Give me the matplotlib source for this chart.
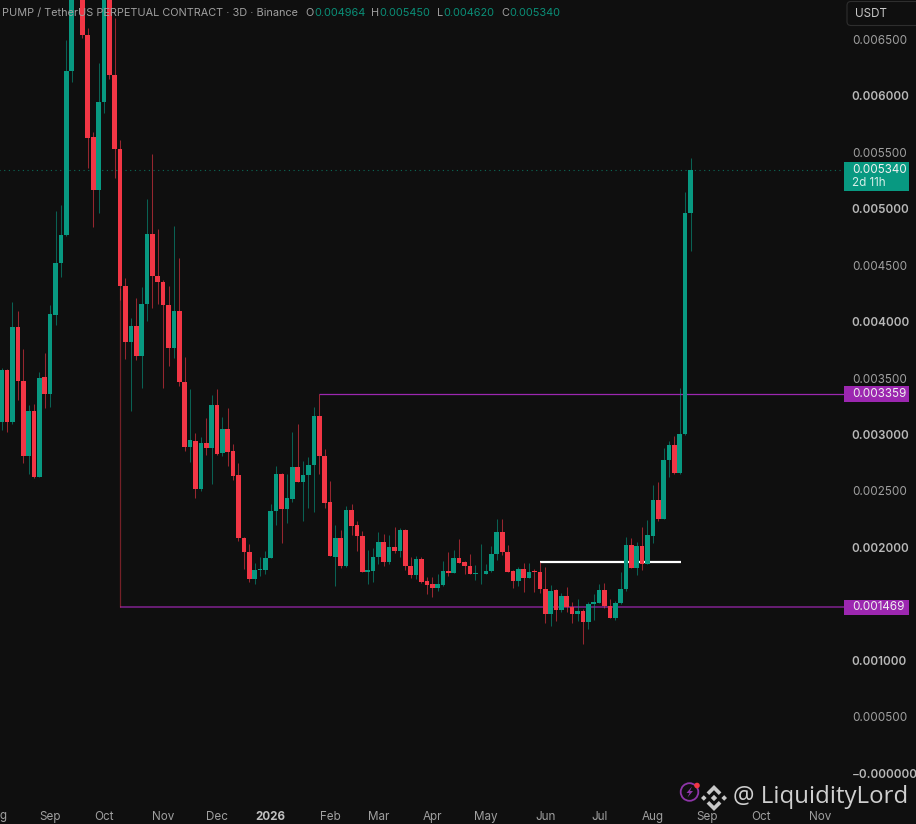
import numpy as np
import matplotlib
matplotlib.use('Agg')
import matplotlib.pyplot as plt
from matplotlib.patches import Circle, FancyBboxPatch, Polygon, Rectangle

# 3D candles, prices in millionths of a USDT
opens = [3111, 3571, 3111, 3954, 3476, 2812, 3208, 2627, 3509, 3356,
         4060, 4521, 4766, 6220, 7070, 7500, 6540, 5630, 5164, 5945,
         7000, 6182, 5527, 4317, 3821, 3960, 3695, 4155, 4775, 4405,
         4347, 4143, 3768, 4096, 3467, 2887, 2945, 2518, 2922, 2881,
         3261, 2834, 3049, 2854, 2642, 2084, 1963, 1721, 1801, 1801,
         1907, 2323, 2651, 2343, 2430, 2712, 2582, 2642, 2730, 3166,
         2810, 2403, 1918, 2084, 1836, 2329, 2199, 2102, 1786, 1795,
         1919, 2046, 1874, 2002, 1972, 2155, 1836, 1756, 1898, 1704,
         1674, 1644, 1665, 1795, 1777, 1905, 1872, 1839, 1768, 1772,
         1768, 1792, 1943, 2135, 1958, 1792, 1704, 1810, 1733, 1789,
         1781, 1633, 1414, 1624, 1447, 1571, 1471, 1409, 1438, 1341,
         1500, 1512, 1624, 1482, 1379, 1506, 1630, 2022, 1819, 2013,
         1854, 2105, 2420, 2252, 2770, 2907, 2657, 3000, 4964]
highs = [3589, 3580, 4173, 4096, 3757, 3261, 3270, 3556, 3721, 4146,
         4981, 5031, 6491, 7150, 7800, 7700, 6598, 5677, 6288, 7200,
         7300, 6686, 5606, 4385, 4034, 4208, 4306, 5082, 5483, 4819,
         4367, 4314, 4845, 4562, 3689, 3403, 3013, 2978, 3146, 3350,
         3403, 3158, 3235, 2916, 2748, 2096, 2031, 1866, 1919, 1969,
         2382, 2721, 2659, 2651, 3025, 3093, 2766, 2798, 3241, 3356,
         2869, 2589, 2199, 2155, 2367, 2385, 2237, 2146, 1978, 1998,
         2135, 2117, 2111, 2184, 2170, 2161, 1919, 1925, 1913, 1736,
         1742, 1766, 1881, 1963, 1978, 2073, 1881, 1940, 1845, 2031,
         1851, 2016, 2250, 2253, 2022, 1801, 1830, 1860, 1860, 1807,
         1874, 1825, 1668, 1630, 1600, 1648, 1515, 1544, 1456, 1520,
         1589, 1674, 1689, 1542, 1527, 1781, 2096, 2087, 2051, 2179,
         2243, 2553, 2582, 2878, 2945, 2987, 3412, 5149, 5450]
lows = [3040, 3025, 3093, 3305, 2751, 2651, 2615, 2620, 3235, 3246,
        3969, 4397, 4760, 6122, 6900, 6512, 5359, 4839, 4960, 5848,
        6146, 5270, 4190, 3668, 3208, 3659, 3412, 4007, 4120, 4155,
        3412, 3606, 3677, 3429, 2857, 2759, 2441, 2503, 2819, 2562,
        2819, 2813, 2724, 2597, 2058, 1810, 1697, 1677, 1750, 1766,
        1905, 2199, 2042, 2217, 2403, 2580, 2237, 2352, 2317, 2651,
        2347, 1925, 1659, 1818, 1830, 2111, 1972, 1784, 1673, 1697,
        1851, 1839, 1851, 1954, 1919, 1801, 1727, 1718, 1683, 1588,
        1559, 1618, 1660, 1748, 1775, 1860, 1766, 1763, 1712, 1674,
        1766, 1785, 1890, 1934, 1780, 1639, 1659, 1604, 1728, 1606,
        1600, 1335, 1305, 1350, 1432, 1432, 1335, 1352, 1146, 1279,
        1358, 1510, 1462, 1375, 1358, 1497, 1615, 1815, 1757, 1801,
        1850, 2042, 2237, 2248, 2627, 2651, 2651, 2995, 4620]
closes = [3571, 3111, 3954, 3476, 2812, 3208, 2627, 3503, 3356, 4067,
          4521, 4766, 6220, 7067, 7600, 6536, 5627, 5164, 5945, 7000,
          6182, 5527, 4314, 3821, 3960, 3695, 4155, 4775, 4405, 4347,
          4143, 3768, 4096, 3467, 2887, 2951, 2518, 2922, 2881, 3261,
          2830, 3049, 2848, 2635, 2084, 1963, 1721, 1801, 1810, 1910,
          2323, 2651, 2343, 2436, 2712, 2582, 2642, 2730, 3166, 2810,
          2394, 1927, 2084, 1836, 2329, 2193, 2102, 1786, 1801, 1919,
          2046, 1874, 2002, 1972, 2155, 1836, 1756, 1898, 1695, 1668,
          1644, 1674, 1795, 1777, 1905, 1866, 1839, 1768, 1777, 1777,
          1795, 1943, 2135, 1958, 1783, 1704, 1810, 1733, 1783, 1781,
          1630, 1414, 1618, 1447, 1571, 1471, 1409, 1438, 1341, 1500,
          1518, 1624, 1482, 1379, 1506, 1633, 2022, 1819, 2013, 1854,
          2108, 2420, 2252, 2775, 2907, 2657, 3002, 4964, 5340]

# 0.001500 sits under the 0.001469 tag in the reference, so it is left out
price_ticks = [0.0065, 0.006, 0.0055, 0.005, 0.0045, 0.004, 0.0035,
               0.003, 0.0025, 0.002, 0.001, 0.0005, 0.0]
price_labels = ['0.006500', '0.006000', '0.005500', '0.005000', '0.004500',
                '0.004000', '0.003500', '0.003000', '0.002500', '0.002000',
                '0.001000', '0.000500', '\u22120.000000']
month_pos = [9, 19, 30, 40, 50, 61, 70, 80, 90, 101, 111, 121, 131, 141, 152]
month_labels = ['Sep', 'Oct', 'Nov', 'Dec', '2026', 'Feb', 'Mar', 'Apr', 'May',
                'Jun', 'Jul', 'Aug', 'Sep', 'Oct', 'Nov']

last_price = 0.005340
upper_level = 0.003359
lower_level = 0.001469
white_level = 0.001874

BG = '#0f0f0f'
GREEN = '#089981'
RED = '#f23645'
PURPLE = '#9c27b0'
TEXT = '#a0a0a0'
W, H = 916, 824
FS = 8.4

plt.rcParams['font.family'] = ['Inter', 'DejaVu Sans']

fig = plt.figure(figsize=(W / 100, H / 100), dpi=100, facecolor=BG)
ax = fig.add_axes([0, 1 - 806 / H, 845 / W, 806 / H], facecolor=BG)

o = np.array(opens) * 1e-6
h = np.array(highs) * 1e-6
l = np.array(lows) * 1e-6
c = np.array(closes) * 1e-6
x = np.arange(len(o))
up = c >= o
colors = np.where(up, GREEN, RED)

# levels sit behind the candles
ax.hlines(upper_level, 59, 157, color=PURPLE, lw=0.9, zorder=2)
ax.hlines(lower_level, 22, 157, color=PURPLE, lw=1.1, alpha=0.8, zorder=2)
ax.vlines(22, lower_level, 0.0043, color=RED, lw=0.9, alpha=0.45, zorder=2)
ax.hlines(white_level, 100, 126.2, color='white', lw=1.6, zorder=2)
ax.hlines(last_price, -1, 157, color='#0c6a58', lw=0.8, ls=(0, (1, 3.2)), zorder=2)

# wicks come out dim in the screenshot
ax.vlines(x, l, h, colors=colors, lw=0.75, alpha=0.6, zorder=3)
ax.bar(x, np.abs(c - o), bottom=np.minimum(o, c), width=0.86, color=colors,
       linewidth=0, zorder=4)

ax.set_xlim(-0.316, 156.7)
ax.set_ylim(-288e-6, 6845.5e-6)
for s in ax.spines.values():
    s.set_visible(False)

ax.yaxis.tick_right()
ax.set_yticks(price_ticks, price_labels)
ax.set_xticks(month_pos, month_labels)
ax.tick_params(axis='both', length=0, labelsize=FS, labelcolor=TEXT)
ax.tick_params(axis='y', pad=4.9)
ax.tick_params(axis='x', pad=3.5)
for t in ax.get_yticklabels():
    if t.get_text() in ('0.006000', '0.005000', '0.004000', '0.003000',
                        '0.002000', '0.001000', '\u22120.000000'):
        t.set_fontweight('semibold')
        t.set_color('#b8b8b8')
ax.get_xticklabels()[4].set_fontweight('bold')
ax.get_xticklabels()[4].set_color('#c0c0c0')
ax.text(-1, -0.0125, 'Aug', transform=ax.get_xaxis_transform(), ha='center',
        va='center', fontsize=FS, color=TEXT, clip_on=False)


def price_tag(price, label, color, above=7.6, below=7.6):
    # box hangs off the right of the plot, heights given in px
    px = 8.85e-6
    ax.add_patch(Rectangle((0.9988, price - below * px), 0.0766, (above + below) * px,
                           transform=ax.get_yaxis_transform(), facecolor=color,
                           edgecolor='none', clip_on=False, zorder=6))
    ax.text(1.0083, price, label, transform=ax.get_yaxis_transform(), color='#f0f0f0',
            fontsize=FS, va='center', ha='left', clip_on=False, zorder=7)


price_tag(upper_level, '0.003359', PURPLE)
price_tag(lower_level, '0.001469', PURPLE)
price_tag(last_price, '0.005340', GREEN, above=7.8, below=20.8)
ax.text(1.0083, last_price - 13.2 * 8.85e-6, '2d 11h', transform=ax.get_yaxis_transform(),
        color='#d8efe9', fontsize=FS, va='center', ha='left', clip_on=False, zorder=7)

# overlay in pixel coordinates for header and watermark
ov = fig.add_axes([0, 0, 1, 1], facecolor='none', zorder=10)
ov.set_xlim(0, W)
ov.set_ylim(H, 0)
ov.axis('off')

HEAD_FS = 7.85
ov.text(2, 13, 'PUMP / TetherUS PERPETUAL CONTRACT \u00b7 3D \u00b7 Binance', color=TEXT,
        fontsize=HEAD_FS, va='center')
ohlc_parts = [('O', 305, '0.004964', 314), ('H', 371, '0.005450', 379.5),
              ('L', 437, '0.004620', 443.5), ('C', 501, '0.005340', 509)]
for name, nx, val, vx in ohlc_parts:
    ov.text(nx, 13, name, color=TEXT, fontsize=HEAD_FS, va='center')
    ov.text(vx, 13, val, color='#0a8f78', fontsize=HEAD_FS, va='center')

# USDT selector box
ov.add_patch(FancyBboxPatch((847, 1.5), 80, 24, boxstyle='round,pad=0,rounding_size=4',
                            facecolor=BG, edgecolor='#2e2e2e', lw=0.8))
ov.text(855, 13.5, 'USDT', color='#c8c8c8', fontsize=FS, va='center')

# watermark
ov.add_patch(Circle((689.5, 792), 8.8, facecolor='none', edgecolor='#8e35a8', lw=1.3))
ov.add_patch(Polygon([(692, 786.5), (686.5, 793), (689.5, 793), (687.5, 797.5),
                      (693, 791), (690, 791)], facecolor='#8e35a8', edgecolor='none'))
ov.add_patch(Circle((697, 785.5), 2.8, facecolor='#f23645', edgecolor='none'))

logo = '#c8c8c8'
cx, cy = 714, 798
for sign in (-1, 1):
    ov.add_patch(Polygon([(cx, cy + sign * 13), (cx + 7.4, cy + sign * 5.6), (cx + 4.8, cy + sign * 3),
                          (cx, cy + sign * 7.8), (cx - 4.8, cy + sign * 3), (cx - 7.4, cy + sign * 5.6)],
                         facecolor=logo, edgecolor='none'))
    ov.add_patch(Polygon([(cx + sign * 13, cy), (cx + sign * 10.2, cy + 2.8), (cx + sign * 7.4, cy),
                          (cx + sign * 10.2, cy - 2.8)], facecolor=logo, edgecolor='none'))
ov.add_patch(Polygon([(cx, cy - 3.2), (cx + 3.2, cy), (cx, cy + 3.2), (cx - 3.2, cy)],
                     facecolor=logo, edgecolor='none'))
ov.text(733, 797, '@ LiquidityLord', color='#cfcfcf', fontsize=17.3, va='center',
        family=['Open Sans', 'DejaVu Sans'])

fig.savefig('out.png', dpi=100, facecolor=BG)
